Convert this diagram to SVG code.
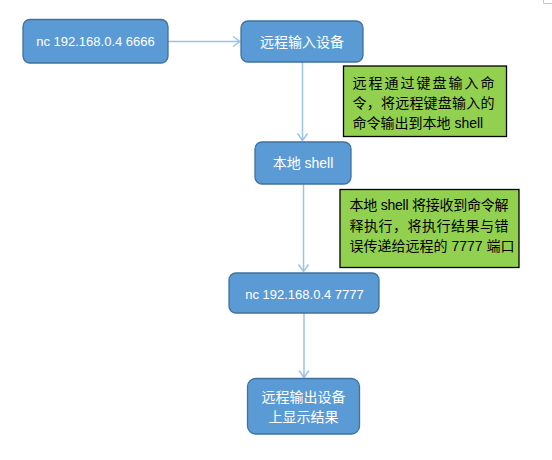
<svg xmlns="http://www.w3.org/2000/svg" width="552" height="460" viewBox="0 0 552 460">
<style>
.box{fill:#5b9bd5;stroke:#41719c;stroke-width:1.3}
.note{fill:#92d050;stroke:#000;stroke-width:1.3}
.wt{fill:#fff;font-family:"Liberation Sans","Noto Sans CJK SC",sans-serif;font-size:14px;text-anchor:middle}
.wl{fill:#fff;font-family:"Liberation Sans","Noto Sans CJK SC",sans-serif;font-size:13px;text-anchor:middle}
.bt{fill:#000;font-family:"Liberation Sans","Noto Sans CJK SC",sans-serif;font-size:14px}
.ln{stroke:#9dc3e6;stroke-width:1.5;fill:none}
</style>
<rect width="552" height="460" fill="#fff"/>
<path d="M543.5,0V3.5H552" fill="none" stroke="#c8c8c8" stroke-width="1"/>
<g id="connectors">
<path class="ln" d="M168,41.5H239.5M233,36.5L240,41.5L233,46.5"/>
<path class="ln" d="M302.5,62V140.5M297.5,133.5L302.5,140.5L307.5,133.5"/>
<path class="ln" d="M303.5,184V271.5M298.5,264.5L303.5,271.5L308.5,264.5"/>
<path class="ln" d="M304,313V377.5M299,370.5L304,377.5L309,370.5"/>
</g>
<g id="n1">
<rect class="box" x="23" y="19.5" width="145" height="43.5" rx="7"/>
<text class="wl" x="95.5" y="46">nc 192.168.0.4 6666</text>
</g>
<g id="n2">
<rect class="box" x="241" y="21" width="122" height="41" rx="7"/>
<text class="wt" x="302" y="47">远程输入设备</text>
</g>
<g id="n3">
<rect class="box" x="255" y="142" width="96" height="42" rx="7"/>
<text class="wt" x="303" y="168">本地 shell</text>
</g>
<g id="n4">
<rect class="box" x="229" y="273" width="150" height="40" rx="7"/>
<text class="wl" x="304.5" y="298.5">nc 192.168.0.4 7777</text>
</g>
<g id="n5">
<rect class="box" x="247.5" y="378.5" width="112" height="55.5" rx="8"/>
<text class="wt" x="303.5" y="402">远程输出设备</text>
<text class="wt" x="303.5" y="422">上显示结果</text>
</g>
<g id="note1">
<rect class="note" x="343.5" y="66" width="163" height="70.5"/>
<text class="bt" x="352.5" y="88" textLength="142" lengthAdjust="spacing">远程通过键盘输入命</text>
<text class="bt" x="352.5" y="108" textLength="142" lengthAdjust="spacing">令，将远程键盘输入的</text>
<text class="bt" x="352.5" y="128">命令输出到本地 shell</text>
</g>
<g id="note2">
<rect class="note" x="340" y="189.5" width="179" height="78"/>
<text class="bt" x="349.5" y="210" textLength="159" lengthAdjust="spacing">本地 shell 将接收到命令解</text>
<text class="bt" x="349.5" y="231" textLength="159" lengthAdjust="spacing">释执行，将执行结果与错</text>
<text class="bt" x="349.5" y="251">误传递给远程的 7777 端口</text>
</g>
</svg>
